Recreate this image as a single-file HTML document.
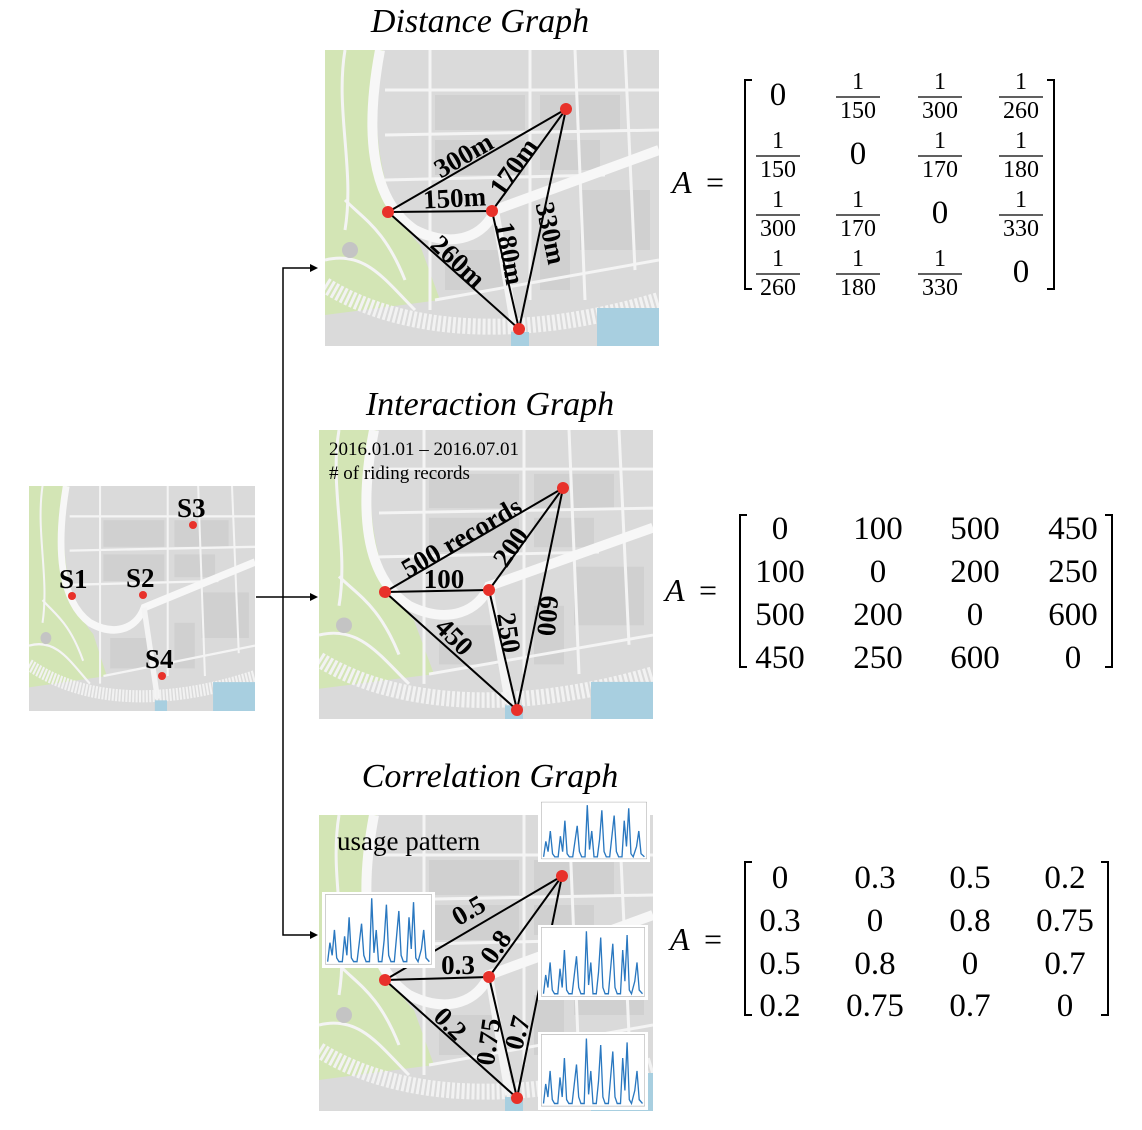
<!DOCTYPE html>
<html><head><meta charset="utf-8"><style>
html,body{margin:0;padding:0;background:#fff;}
svg{display:block;}
text{font-family:"Liberation Serif",serif;}
.t{font-style:italic;font-size:34px;}
.e{font-weight:bold;font-size:27px;}
.m{font-size:33px;text-anchor:middle;}
.f{font-size:24px;text-anchor:middle;}
</style></head><body>
<svg width="1142" height="1130" viewBox="0 0 1142 1130" xmlns="http://www.w3.org/2000/svg">
<defs>
<symbol id="map" viewBox="0 0 334 296" preserveAspectRatio="none">
<rect width="334" height="296" fill="#dadada"/>
<g fill="#d0d0d0">
<rect x="110" y="45" width="90" height="35"/><rect x="215" y="45" width="80" height="35"/>
<rect x="110" y="90" width="90" height="35"/><rect x="215" y="90" width="60" height="30"/>
<rect x="120" y="200" width="60" height="40"/><rect x="255" y="140" width="70" height="60"/>
<rect x="215" y="180" width="30" height="60"/>
</g>
<path d="M0,0 L58,0 C45,60 50,150 95,195 L115,250 L0,265 Z" fill="#d3e5b5"/>
<g stroke="#f4f4f4" stroke-width="3" fill="none">
<path d="M20,0 C10,60 30,120 20,180"/><path d="M105,0 L105,260"/><path d="M205,0 L205,250"/>
<path d="M250,0 L260,250"/><path d="M300,0 L310,220"/><path d="M60,40 L334,40"/>
<path d="M60,85 L334,80"/><path d="M60,130 L280,125"/><path d="M0,210 C40,200 60,230 90,260"/>
<path d="M20,150 C40,170 60,180 80,230"/><path d="M110,250 L334,210"/>
</g>
<path d="M55,0 C40,80 45,150 90,180 C130,200 160,185 170,160 L334,100" stroke="#f7f7f7" stroke-width="10" fill="none"/>
<path d="M170,160 L190,280" stroke="#f4f4f4" stroke-width="8" fill="none"/>
<path d="M0,235 C80,285 200,290 334,250" stroke="#f2f2f2" stroke-width="16" fill="none" stroke-dasharray="3 2"/>
<rect x="272" y="258" width="62" height="38" fill="#a8cfe0"/>
<rect x="186" y="282" width="18" height="14" fill="#a8cfe0"/>
<circle cx="25" cy="200" r="8" fill="#c4c4c4"/>
</symbol>
<symbol id="plot" viewBox="0 0 100 60" preserveAspectRatio="none">
<rect width="100" height="60" fill="#fff"/>
<rect x="3" y="2" width="94" height="55" fill="none" stroke="#999" stroke-width="0.4"/>
<polyline fill="none" stroke="#2a78c0" stroke-width="1.2" points="5,55 7,40 9,50 11,30 13,52 15,55 18,55 20,35 22,50 24,20 26,52 28,55 31,55 33,40 35,25 37,50 39,55 42,55 44,5 46,48 48,30 50,55 53,55 55,38 57,10 59,50 61,55 64,55 66,35 68,15 70,50 72,55 75,55 77,20 79,45 81,8 83,52 85,55 88,45 90,30 92,52 95,55"/>
</symbol>
</defs>

<use href="#map" x="29" y="486" width="226" height="225"/>
<g fill="#e8312a"><circle cx="72" cy="596" r="4"/><circle cx="143" cy="595" r="4"/><circle cx="193" cy="525" r="4"/><circle cx="162" cy="676" r="4"/></g>
<g class="e" font-size="26"><text x="59" y="588">S1</text><text x="126" y="587">S2</text><text x="177" y="517">S3</text><text x="145" y="668">S4</text></g>

<g stroke="#000" stroke-width="1.5" fill="none">
<line x1="256" y1="597" x2="312" y2="597"/>
<polyline points="283,597 283,268 312,268"/>
<polyline points="283,597 283,935 312,935"/>
</g>
<g fill="#000"><polygon points="318,597 310,593 310,601"/><polygon points="318,268 310,264 310,272"/><polygon points="318,935 310,931 310,939"/></g>

<text class="t" x="480" y="32" text-anchor="middle">Distance Graph</text>
<use href="#map" x="325" y="50" width="334" height="296"/>
<g stroke="#000" stroke-width="2"><line x1="388" y1="212" x2="492" y2="211"/><line x1="388" y1="212" x2="566" y2="109"/><line x1="388" y1="212" x2="519" y2="329"/><line x1="492" y1="211" x2="566" y2="109"/><line x1="492" y1="211" x2="519" y2="329"/><line x1="566" y1="109" x2="519" y2="329"/></g>
<g fill="#e8312a"><circle cx="388" cy="212" r="6"/><circle cx="492" cy="211" r="6"/><circle cx="566" cy="109" r="6"/><circle cx="519" cy="329" r="6"/></g>
<g class="e" text-anchor="middle">
<text transform="translate(468,163) rotate(-30)">300m</text>
<text transform="translate(521,172) rotate(-55)">170m</text>
<text transform="translate(455,207) rotate(-3)">150m</text>
<text transform="translate(501,255) rotate(80)">180m</text>
<text transform="translate(542,235) rotate(78)">330m</text>
<text transform="translate(452,268) rotate(43)">260m</text>
</g>
<text x="672" y="193" font-size="32" font-style="italic">A</text><text x="706" y="193" font-size="32">=</text>
<g stroke="#000" stroke-width="2" fill="none"><polyline points="752,80 745,80 745,289 752,289"/><polyline points="1047,80 1054,80 1054,289 1047,289"/></g>
<g class="m"><text x="778" y="105">0</text><text x="858" y="164">0</text><text x="940" y="223">0</text><text x="1021" y="282">0</text></g>
<g class="f">
<text x="858" y="89">1</text><text x="858" y="118">150</text>
<text x="940" y="89">1</text><text x="940" y="118">300</text>
<text x="1021" y="89">1</text><text x="1021" y="118">260</text>
<text x="778" y="148">1</text><text x="778" y="177">150</text>
<text x="940" y="148">1</text><text x="940" y="177">170</text>
<text x="1021" y="148">1</text><text x="1021" y="177">180</text>
<text x="778" y="207">1</text><text x="778" y="236">300</text>
<text x="858" y="207">1</text><text x="858" y="236">170</text>
<text x="1021" y="207">1</text><text x="1021" y="236">330</text>
<text x="778" y="266">1</text><text x="778" y="295">260</text>
<text x="858" y="266">1</text><text x="858" y="295">180</text>
<text x="940" y="266">1</text><text x="940" y="295">330</text>
</g>
<g stroke="#000" stroke-width="1.3">
<line x1="836" y1="97" x2="880" y2="97"/><line x1="918" y1="97" x2="962" y2="97"/><line x1="999" y1="97" x2="1043" y2="97"/>
<line x1="756" y1="156" x2="800" y2="156"/><line x1="918" y1="156" x2="962" y2="156"/><line x1="999" y1="156" x2="1043" y2="156"/>
<line x1="756" y1="215" x2="800" y2="215"/><line x1="836" y1="215" x2="880" y2="215"/><line x1="999" y1="215" x2="1043" y2="215"/>
<line x1="756" y1="274" x2="800" y2="274"/><line x1="836" y1="274" x2="880" y2="274"/><line x1="918" y1="274" x2="962" y2="274"/>
</g>

<text class="t" x="490" y="415" text-anchor="middle">Interaction Graph</text>
<use href="#map" x="319" y="430" width="334" height="289"/>
<text x="329" y="455" font-size="19">2016.01.01 – 2016.07.01</text>
<text x="329" y="479" font-size="19"># of riding records</text>
<g stroke="#000" stroke-width="2"><line x1="385" y1="592" x2="489" y2="590"/><line x1="385" y1="592" x2="563" y2="488"/><line x1="385" y1="592" x2="517" y2="710"/><line x1="489" y1="590" x2="563" y2="488"/><line x1="489" y1="590" x2="517" y2="710"/><line x1="563" y1="488" x2="517" y2="710"/></g>
<g fill="#e8312a"><circle cx="385" cy="592" r="6"/><circle cx="489" cy="590" r="6"/><circle cx="563" cy="488" r="6"/><circle cx="517" cy="710" r="6"/></g>
<g class="e" text-anchor="middle">
<text transform="translate(466,545) rotate(-30)">500 records</text>
<text transform="translate(518,552) rotate(-55)">200</text>
<text transform="translate(444,588)">100</text>
<text transform="translate(448,643) rotate(45)">450</text>
<text transform="translate(500,634) rotate(82)">250</text>
<text transform="translate(539,615) rotate(95)">600</text>
</g>
<text x="665" y="601" font-size="32" font-style="italic">A</text><text x="699" y="601" font-size="32">=</text>
<g stroke="#000" stroke-width="2" fill="none"><polyline points="747,515 740,515 740,667 747,667"/><polyline points="1105,515 1112,515 1112,667 1105,667"/></g>
<g class="m">
<text x="780" y="539">0</text><text x="878" y="539">100</text><text x="975" y="539">500</text><text x="1073" y="539">450</text>
<text x="780" y="582">100</text><text x="878" y="582">0</text><text x="975" y="582">200</text><text x="1073" y="582">250</text>
<text x="780" y="625">500</text><text x="878" y="625">200</text><text x="975" y="625">0</text><text x="1073" y="625">600</text>
<text x="780" y="668">450</text><text x="878" y="668">250</text><text x="975" y="668">600</text><text x="1073" y="668">0</text>
</g>

<text class="t" x="490" y="787" text-anchor="middle">Correlation Graph</text>
<use href="#map" x="319" y="815" width="334" height="296"/>
<rect x="536" y="800" width="118" height="15" fill="#fff"/>
<text x="337" y="850" font-size="27">usage pattern</text>
<g stroke="#000" stroke-width="2"><line x1="385" y1="980" x2="489" y2="977"/><line x1="385" y1="980" x2="562" y2="876"/><line x1="385" y1="980" x2="517" y2="1098"/><line x1="489" y1="977" x2="562" y2="876"/><line x1="489" y1="977" x2="517" y2="1098"/><line x1="562" y1="876" x2="517" y2="1098"/></g>
<use href="#plot" x="538" y="800" width="112" height="62"/>
<use href="#plot" x="322" y="892" width="113" height="76"/>
<use href="#plot" x="538" y="925" width="110" height="75"/>
<use href="#plot" x="538" y="1032" width="110" height="78"/>
<g fill="#e8312a"><circle cx="385" cy="980" r="6"/><circle cx="489" cy="977" r="6"/><circle cx="562" cy="876" r="6"/><circle cx="517" cy="1098" r="6"/></g>
<g class="e" text-anchor="middle">
<text transform="translate(473,918) rotate(-30)">0.5</text>
<text transform="translate(503,952) rotate(-55)">0.8</text>
<text transform="translate(458,974)">0.3</text>
<text transform="translate(444,1030) rotate(45)">0.2</text>
<text transform="translate(497,1043) rotate(-82)">0.75</text>
<text transform="translate(526,1035) rotate(-75)">0.7</text>
</g>
<text x="670" y="950" font-size="32" font-style="italic">A</text><text x="704" y="950" font-size="32">=</text>
<g stroke="#000" stroke-width="2" fill="none"><polyline points="752,862 745,862 745,1015 752,1015"/><polyline points="1101,862 1108,862 1108,1015 1101,1015"/></g>
<g class="m">
<text x="780" y="888">0</text><text x="875" y="888">0.3</text><text x="970" y="888">0.5</text><text x="1065" y="888">0.2</text>
<text x="780" y="931">0.3</text><text x="875" y="931">0</text><text x="970" y="931">0.8</text><text x="1065" y="931">0.75</text>
<text x="780" y="974">0.5</text><text x="875" y="974">0.8</text><text x="970" y="974">0</text><text x="1065" y="974">0.7</text>
<text x="780" y="1016">0.2</text><text x="875" y="1016">0.75</text><text x="970" y="1016">0.7</text><text x="1065" y="1016">0</text>
</g>
</svg>
</body></html>
